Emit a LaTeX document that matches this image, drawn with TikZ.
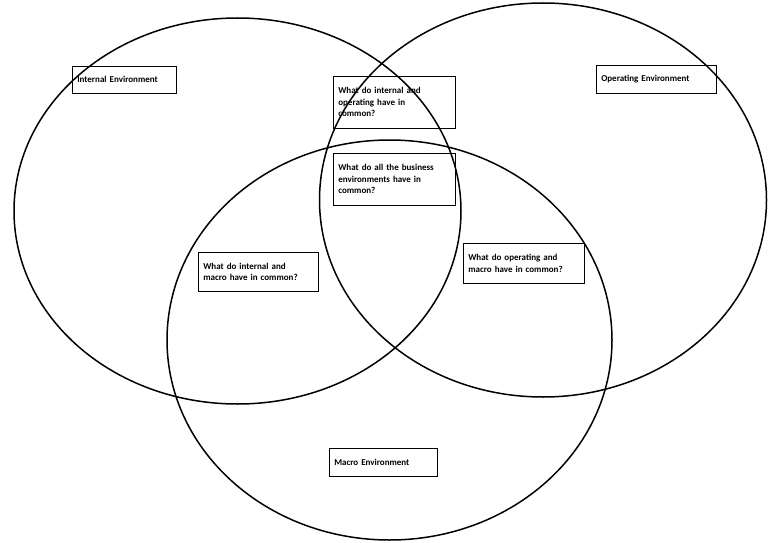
\documentclass[tikz,border=0pt]{standalone}
\usepackage{fontspec}
\setmainfont{Carlito}
\begin{document}
\begin{tikzpicture}[x=1pt,y=-1pt,
  ell/.style={draw,line width=1.5pt},
  lbl/.style={draw,line width=0.6pt,anchor=north west,align=left,font=\fontsize{9}{11.5}\selectfont\bfseries,inner xsep=5pt,inner ysep=4pt,text width=#1},
  lbl/.default=100pt]
\useasboundingbox (0,0) rectangle (768,543);
\draw[ell] (237.5,211) ellipse [x radius=223.5, y radius=193];
\draw[ell] (543,200) ellipse [x radius=223.5, y radius=197];
\draw[ell] (389.5,340) ellipse [x radius=222.5, y radius=200];
\node[lbl=94pt,minimum height=27pt] (ie) at (72,66) {Internal Environment};
\node[lbl=112pt,minimum height=52pt] (io) at (333,76) {What do internal and\\operating have in\\common?};
\node[lbl=112pt,minimum height=52pt] (all) at (333,153) {What do all the business\\environments have in\\common?};
\node[lbl=110pt,minimum height=39pt] (im) at (198,252) {What do internal and\\macro have in common?};
\node[lbl=111pt,minimum height=40pt] (om) at (463,243) {What do operating and\\macro have in common?};
\node[lbl=110pt,minimum height=28pt] (oe) at (596,65) {Operating Environment};
\node[lbl=98pt,minimum height=28pt] (me) at (329,448) {Macro Environment};
\end{tikzpicture}
\end{document}
